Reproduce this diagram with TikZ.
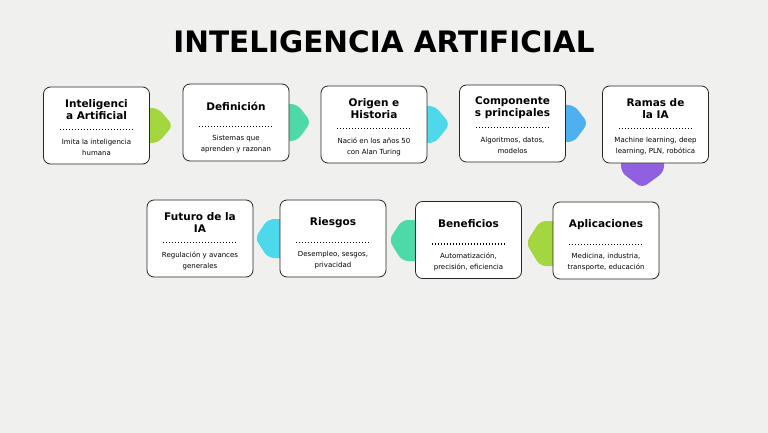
\documentclass[tikz,border=0pt]{standalone}
\usepackage{fontspec}
\setmainfont{DejaVu Sans}
\usepackage{tikz}
\usetikzlibrary{positioning}
\definecolor{bgcolor}{HTML}{F0F0EF}
\definecolor{tabgreen}{HTML}{A3D63F}
\definecolor{tabteal}{HTML}{4DD9A8}
\definecolor{tabcyan}{HTML}{4DD8EC}
\definecolor{tabblue}{HTML}{4FB0EF}
\definecolor{tabpurple}{HTML}{9060E0}
\tikzset{cardbox/.style={draw=black!85,line width=0.8pt,fill=white,rounded corners=7pt,minimum width=106pt,minimum height=77pt,inner sep=0pt},
  cardtitle/.style={font=\fontsize{10.5}{12}\selectfont\bfseries,align=center},
  cardbody/.style={font=\fontsize{7}{11}\selectfont,align=center},
  tabshape/.style={rounded corners=6pt}}
% card: name, center, title, body
\newcommand{\infocard}[4]{%
  \node[cardbox] (#1) at (#2) {};
  \node[cardtitle,anchor=center] (#1t) at ([yshift=16pt]#1.center) {#3};
  \draw[line width=1.4pt,dash pattern=on 1.4pt off 1.6pt] ([xshift=-37pt,yshift=-4pt]#1.center) -- ([xshift=37pt,yshift=-4pt]#1.center);
  \node[cardbody,anchor=center] (#1b) at ([yshift=-22pt]#1.center) {#4};}
\begin{document}
\begin{tikzpicture}[x=1pt,y=-1pt]
  \fill[bgcolor] (0,0) rectangle (768,433);
  \useasboundingbox (0,0) rectangle (768,433);
  \node[font=\fontsize{29.5}{32}\selectfont\bfseries] (title) at (384,42) {INTELIGENCIA ARTIFICIAL};
  %
  \fill[tabgreen,tabshape] (135,108) -- (158,108) -- (173,125.5) -- (158,143) -- (135,143) -- cycle;
  \fill[tabteal,tabshape] (274,104) -- (297,104) -- (311,122) -- (297,141) -- (274,141) -- cycle;
  \fill[tabcyan,tabshape] (412,106) -- (435,106) -- (450,124) -- (435,143) -- (412,143) -- cycle;
  \fill[tabblue,tabshape] (551,105) -- (574,105) -- (588,123) -- (574,142) -- (551,142) -- cycle;
  \fill[tabpurple,tabshape] (621,150) -- (621,172) -- (642,188) -- (664,172) -- (664,150) -- cycle;
  \fill[tabgreen,tabshape] (568,221) -- (540,221) -- (526,243) -- (540,266) -- (568,266) -- cycle;
  \fill[tabteal,tabshape] (430,220) -- (402,220) -- (389,240) -- (402,261) -- (430,261) -- cycle;
  \fill[tabcyan,tabshape] (295,219) -- (268,219) -- (255,238) -- (268,258) -- (295,258) -- cycle;
  %
  \infocard{ia}{96.5,125.5}{Inteligenci\\a Artificial}{Imita la inteligencia\\humana}
  \infocard{def}{236,122.5}{Definición}{Sistemas que\\aprenden y razonan}
  \infocard{orig}{374,124.5}{Origen e\\Historia}{Nació en los años 50\\con Alan Turing}
  \infocard{comp}{512.5,123.5}{Componente\\s principales}{Algoritmos, datos,\\modelos}
  \infocard{ramas}{655.5,124.5}{Ramas de\\la IA}{Machine learning, deep\\learning, PLN, robótica}
  \infocard{apl}{606,240.5}{Aplicaciones}{Medicina, industria,\\transporte, educación}
  \infocard{ben}{468.5,240}{Beneficios}{Automatización,\\precisión, eficiencia}
  \infocard{ries}{333,238.5}{Riesgos}{Desempleo, sesgos,\\privacidad}
  \infocard{fut}{200,238.5}{Futuro de la\\IA}{Regulación y avances\\generales}
\end{tikzpicture}
\end{document}
